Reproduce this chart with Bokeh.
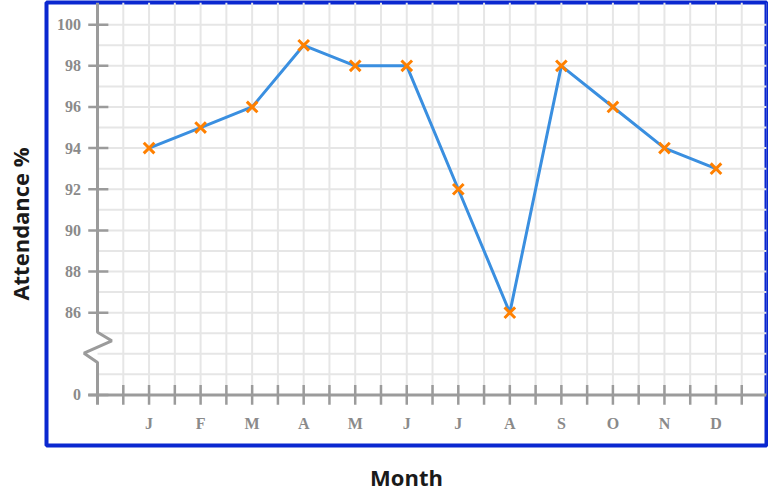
import numpy as np
from bokeh.plotting import figure
from bokeh.models import Range1d, LinearAxis, FixedTicker
from bokeh.core.properties import value
from bokeh.embed import file_html
from bokeh.resources import INLINE

# ---- data ----
months = ["J", "F", "M", "A", "M", "J", "J", "A", "S", "O", "N", "D"]
month_pos = [1, 2, 3, 4, 5, 6, 7, 8, 9, 10, 11, 12]
attendance = [94, 95, 96, 99, 98, 98, 92, 86, 98, 96, 94, 93]

y_tick_values = [100, 98, 96, 94, 92, 90, 88, 86]
y_tick_labels = ["100", "98", "96", "94", "92", "90", "88", "86"]
zero_label = "0"
BASE = 82            # where "0" sits on the broken axis
BREAK_TOP = 85.05
break_x = [0.276, -0.262]
break_y = [84.63, 84.03]
BREAK_BOTTOM = 83.58

X_LEFT, X_RIGHT = -0.99, 12.98
Y_BOTTOM, Y_TOP = 79.54, 101.08

grid_x = list(np.arange(0.5, 13.01, 0.5))
grid_y = list(range(83, 101))
xtick_x = list(np.arange(0.5, 12.51, 0.5))

AXIS = "#9b9b9b"
GRID = "#e6e6e6"
LABEL = "#8a8a8a"

p = figure(width=768, height=494,
           x_range=Range1d(X_LEFT, X_RIGHT), y_range=Range1d(Y_BOTTOM, Y_TOP),
           x_axis_type=None, y_axis_type=None,
           output_backend="svg", toolbar_location=None,
           min_border_left=46, min_border_right=2,
           min_border_top=2, min_border_bottom=47)
p.grid.visible = False
p.outline_line_color = "#0b28d0"
p.outline_line_width = 4
p.background_fill_color = "white"
p.border_fill_color = "white"


def title_axis(label, standoff):
    ax = LinearAxis(ticker=FixedTicker(ticks=[]), axis_label=label,
                    axis_line_color=None, major_tick_in=0, major_tick_out=0,
                    minor_tick_in=0, minor_tick_out=0, major_label_standoff=0,
                    axis_label_standoff=standoff,
                    axis_label_text_font="Open Sans",
                    axis_label_text_font_style="bold",
                    axis_label_text_font_size="22px",
                    axis_label_text_color="#1a1a1a")
    return ax


p.add_layout(title_axis("Attendance %", 12), "left")
p.add_layout(title_axis("Month", 16), "below")

# grid
n = len(grid_x)
p.segment(x0=grid_x, y0=[BASE] * n, x1=grid_x, y1=[Y_TOP] * n,
          line_color=GRID, line_width=2)
m = len(grid_y)
p.segment(x0=[0] * m, y0=grid_y, x1=[X_RIGHT] * m, y1=grid_y,
          line_color=GRID, line_width=2)

# y axis with break
ax_x = [0, 0] + break_x + [0, 0]
ax_y = [Y_TOP, BREAK_TOP] + break_y + [BREAK_BOTTOM, BASE - 0.48]
p.line(ax_x, ax_y, line_color=AXIS, line_width=3)
# x axis
p.line([-0.18, X_RIGHT], [BASE, BASE], line_color=AXIS, line_width=3)

# y ticks
yt = y_tick_values + [BASE]
k = len(yt)
p.segment(x0=[-0.18] * k, y0=yt, x1=[0.21] * k, y1=yt, line_color=AXIS, line_width=2.5)
# x ticks
q = len(xtick_x)
p.segment(x0=xtick_x, y0=[BASE + 0.48] * q, x1=xtick_x, y1=[BASE - 0.48] * q,
          line_color=AXIS, line_width=2.5)

# tick labels
p.text(x=[-0.32] * k, y=yt, text=y_tick_labels + [zero_label],
       text_align="right", text_baseline="middle",
       text_font=value("Liberation Serif"), text_font_style="bold",
       text_font_size="16px", text_color=LABEL)
p.text(x=month_pos, y=[80.6] * len(months), text=months,
       text_align="center", text_baseline="middle",
       text_font=value("Liberation Serif"), text_font_style="bold",
       text_font_size="16px", text_color=LABEL)

# data
p.line(month_pos, attendance, line_color="#3a8fe0", line_width=3)
p.scatter(month_pos, attendance, marker="x", size=15,
          line_color="#ff8000", line_width=3)

open("out.html", "w").write(file_html(p, INLINE))
